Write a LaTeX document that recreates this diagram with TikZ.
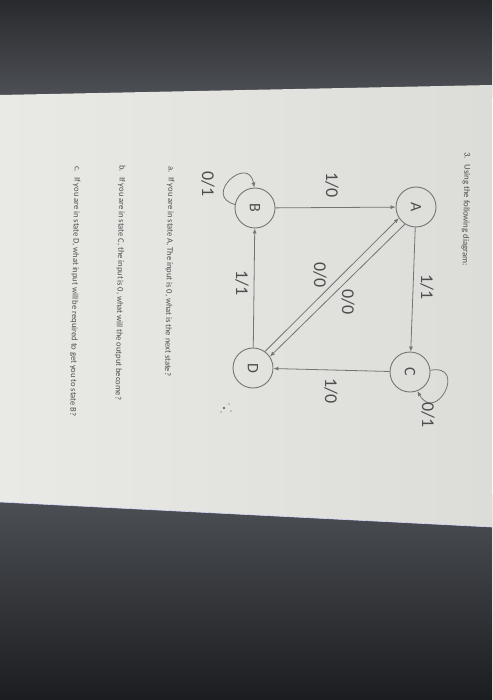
\documentclass[tikz,border=0pt]{standalone}
\usepackage{fontspec}
\setmainfont{Carlito}
\usetikzlibrary{arrows.meta}
\definecolor{inkgray}{HTML}{4E4E4E}
\definecolor{linegray}{HTML}{747474}
\definecolor{screendk}{HTML}{282A2E}
\definecolor{screenlt}{HTML}{4D5055}
\definecolor{screenbt}{HTML}{1B1D20}
\definecolor{paperl}{HTML}{E9E9E6}
\definecolor{paperr}{HTML}{DCDCD9}
\begin{document}
\begin{tikzpicture}[x=1pt,y=-1pt,
    etat/.style={circle,draw=linegray,line width=0.9pt,minimum size=40pt,inner sep=0pt,text=inkgray,font=\fontsize{16}{16}\selectfont},
    lbl/.style={rotate=-90,inner sep=0pt,text=inkgray,font=\fontsize{18}{18}\selectfont},
    fleche/.style={draw=linegray,line width=0.8pt,-{Latex[length=5pt,width=4pt]}},
    question/.style={rotate=-91,anchor=west,inner sep=0pt,text=inkgray,font=\fontsize{8.5}{9}\selectfont}]
\useasboundingbox (0,0) rectangle (492,700);
% screen round the page
\shade[top color=screendk,bottom color=screenlt] (0,0) rectangle (492,97);
\shade[top color=screenlt,bottom color=screenbt] (0,495) rectangle (492,700);
\shade[left color=paperl,right color=paperr] (0,95) -- (492,85) -- (492,527) -- (0,502) -- cycle;
\draw[white!85!blue,line width=0.6pt] (0,502) -- (492,527);

% states
\node[etat] (A) at (416,207) {\rotatebox{-90}{A}};
\node[etat] (B) at (255,208) {\rotatebox{-90}{B}};
\node[etat] (C) at (410,372) {\rotatebox{-90}{C}};
\node[etat] (D) at (253,368) {\rotatebox{-90}{D}};

% transitions
\draw[fleche] (B) -- (A);
\draw[fleche] (A) -- (C);
\draw[fleche] (C) -- (D);
\draw[fleche] (D) -- (B);
\draw[fleche] (D.54) -- (A.213);
\draw[fleche] (A.237) -- (D.34);
\draw[fleche] (B.170) .. controls +(195:34) and +(260:34) .. (B.92);
\draw[fleche] (C.5) .. controls +(350:38) and +(60:38) .. (C.291);

\node[lbl] (lBA) at (332,185) {1/0};
\node[lbl] (lAC) at (427,287) {1/1};
\node[lbl] (lCD) at (331,391) {1/0};
\node[lbl] (lDB) at (242,283) {1/1};
\node[lbl] (lDA) at (320,275) {0/0};
\node[lbl] (lAD) at (348,302) {0/0};
\node[lbl] (lBB) at (208,184) {0/1};
\node[lbl] (lCC) at (428,415) {0/1};

% texts
\node[question,font=\fontsize{8.7}{9}\selectfont] (titre) at (467,152) {3.\hspace{6pt}Using the following diagram:};
\node[question] (qa) at (171,166) {\makebox[11pt][l]{a.}If you are in state A, The input is 0, what is the next state?};
\node[question] (qb) at (122,165) {\makebox[12pt][l]{b.}If you are in state C, the input is 0, what will the output become?};
\node[question] (qc) at (77,166) {\makebox[11pt][l]{c.}If you are in state D, what input will be required to get you to state B?};

% speck
\fill[inkgray] (224,408) circle (1.1) (229,404) circle (0.7) (221,412) circle (0.7) (231,411) circle (0.6);
\end{tikzpicture}
\end{document}
